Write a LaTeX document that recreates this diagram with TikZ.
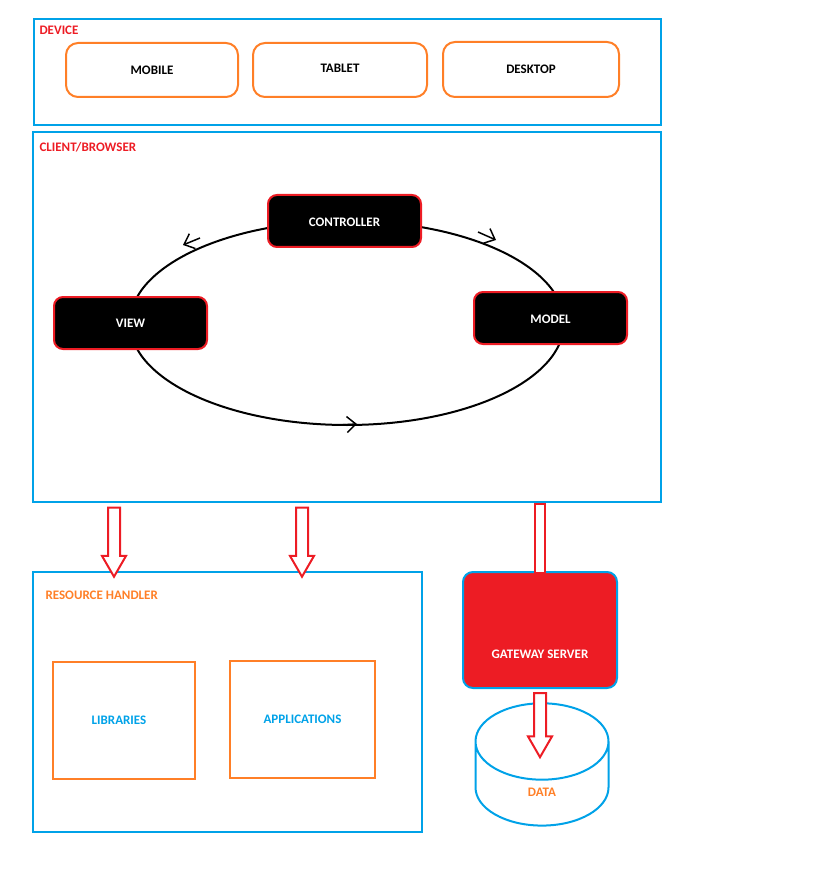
\documentclass[tikz,border=0pt]{standalone}
\usepackage{fontspec}
\setmainfont{Carlito}
\usetikzlibrary{shapes.geometric,shapes.arrows,arrows.meta}
\definecolor{ablue}{RGB}{0,162,232}
\definecolor{aorange}{RGB}{255,127,39}
\definecolor{ared}{RGB}{237,28,36}
\begin{document}
\begin{tikzpicture}[x=1pt,y=-1pt,
  lbl/.style={font=\bfseries\fontsize{13}{15}\selectfont},
  panel/.style={draw=ablue,line width=2.5pt},
  dev/.style={draw=aorange,line width=2pt,rounded corners=12pt,lbl},
  mvc/.style={fill=black,draw=ared,line width=2pt,rounded corners=9pt,text=white,lbl},
  sub/.style={draw=aorange,line width=2pt,text=ablue,lbl},
  hollow/.style={single arrow,draw=ared,fill=white,line width=2pt,
    minimum height=69pt,single arrow head extend=6pt,single arrow tip angle=60,
    inner sep=5pt,shape border rotate=270},
  tip/.style={-{Straight Barb[length=9pt,width=16pt,line width=1.5pt]},line width=1.5pt}]
\useasboundingbox (0,0) rectangle (819,882);

% device
\draw[panel] (34,19) rectangle (661,125);
\node[lbl,text=ared,anchor=west] (devl) at (36,30) {DEVICE};
\draw[dev] (66,43) rectangle (238,97) node[midway] (mob) {MOBILE};
\draw[dev] (253,43) rectangle (427,97) node[midway,yshift=2pt] (tab) {TABLET};
\draw[dev] (443,42) rectangle (619,97) node[midway] (desk) {DESKTOP};

% client
\draw[panel] (33,132) rectangle (661,502);
\node[lbl,text=ared,anchor=west] (cll) at (36,147) {CLIENT/BROWSER};
\draw[line width=2pt] (347,323) ellipse [x radius=217pt,y radius=102pt];
\draw[tip] (200,238) -- (183,245);
\draw[tip] (478,232) -- (496,240);
\draw[tip] (338,425) -- (357,424);
\draw[mvc] (268,195) rectangle (421,247) node[midway,yshift=-1pt] (ctrl) {CONTROLLER};
\draw[mvc] (54,297) rectangle (207,349) node[midway] (view) {VIEW};
\draw[mvc] (474,292) rectangle (627,344) node[midway,yshift=-1pt] (model) {MODEL};

% resource handler
\draw[panel] (33,572) rectangle (422,832);
\node[lbl,text=aorange,anchor=west] (rhl) at (42,595) {RESOURCE HANDLER};
\draw[sub] (53,662) rectangle (195,779) node[midway,xshift=-5pt] (lib) {LIBRARIES};
\draw[sub] (230,661) rectangle (375,778) node[midway] (app) {APPLICATIONS};

% gateway and data
\node[lbl,text=white,fill=ared,draw=ablue,line width=2pt,rounded corners=10pt,
  minimum width=154pt,minimum height=116pt,text depth=0pt] (gw) at (540,630) {\raisebox{-28pt}{GATEWAY SERVER}};
\node[cylinder,shape border rotate=90,draw=ablue,line width=2pt,aspect=2.2,
  minimum width=133pt,minimum height=70pt,lbl,text=aorange] (data) at (542,790) {\raisebox{-12pt}{DATA}};

% hollow arrows
\node[hollow] (a1) at (114,537) {};
\node[hollow] (a2) at (302,537) {};
\node[hollow,minimum height=64pt] (a4) at (540,720) {};
\draw[draw=ared,fill=white,line width=2pt] (535,504) rectangle (545,573);
\end{tikzpicture}
\end{document}
